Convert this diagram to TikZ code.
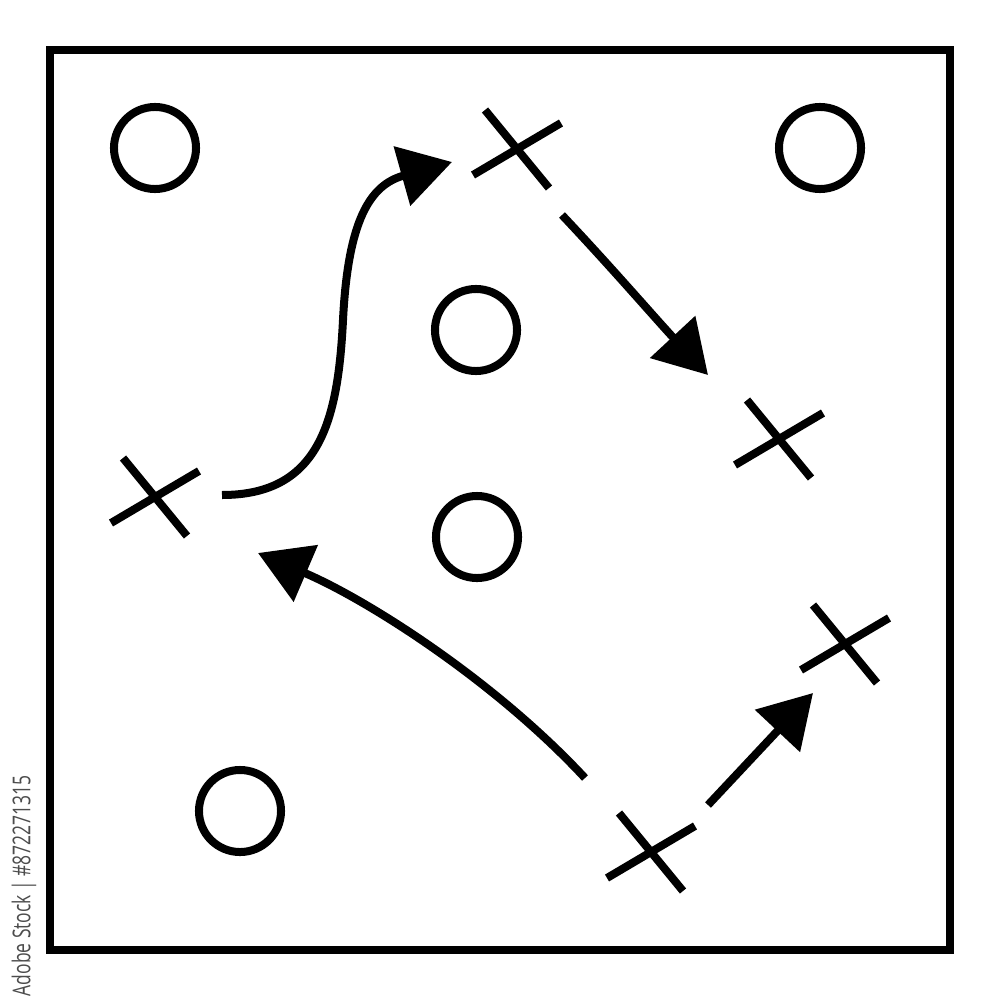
\documentclass[tikz,border=0pt]{standalone}
\usepackage{fontspec}
\setmainfont{Open Sans}
\usetikzlibrary{arrows.meta}
\tikzset{
  x=0.01cm, y=-0.01cm,
  ink/.style={line width=0.08cm, black},
  frame/.style={ink, line width=0.085cm},
  spot/.style={circle, draw, ink, minimum size=0.82cm, inner sep=0pt},
  route/.style={ink, line cap=butt, -{Triangle[length=0.52cm, width=0.6cm]}},
  xmark/.pic={\draw[ink, line cap=butt] (-32,-39) -- (32,39) (-44,26) -- (44,-26);},
  wmark/.style={rotate=90, text=black!70, font=\fontsize{7}{8}\selectfont, inner sep=0pt}
}
\begin{document}
\begin{tikzpicture}
\useasboundingbox (0,0) rectangle (1000,1000);
% frame
\draw[frame] (50,50) rectangle (950,950);
% circles
\node[spot] (o1) at (155,148) {};
\node[spot] (o2) at (820,148) {};
\node[spot] (o3) at (476,330) {};
\node[spot] (o4) at (477,537) {};
\node[spot] (o5) at (240,811) {};
% crosses
\pic (x1) at (517,149) {xmark};
\pic (x2) at (779,439) {xmark};
\pic (x3) at (155,497) {xmark};
\pic (x4) at (845,644) {xmark};
\pic (x5) at (651,852) {xmark};
% connector ends
\coordinate (a1s) at (222,495);
\coordinate (a1m) at (343,320);
\coordinate (a1e) at (452,162);
\coordinate (a2s) at (562,215);
\coordinate (a2e) at (708,375);
\coordinate (a3s) at (585,778);
\coordinate (a3e) at (258,553);
\coordinate (a4s) at (708,805);
\coordinate (a4e) at (813,693);
% arrows
\draw[route] (a1s) .. controls (320,495) and (338,420) .. (a1m)
                   .. controls (348,220) and (370,185) .. (a1e);
\draw[route] (a2s) .. controls (612,268) and (655,318) .. (a2e);
\draw[route] (a3s) .. controls (495,681) and (368,600) .. (a3e);
\draw[route] (a4s) -- (a4e);
% watermark text
\node[wmark, anchor=west] (wm) at (24,997) {\scalebox{0.71}[1]{Adobe Stock | \#872271315}};
\end{tikzpicture}
\end{document}
